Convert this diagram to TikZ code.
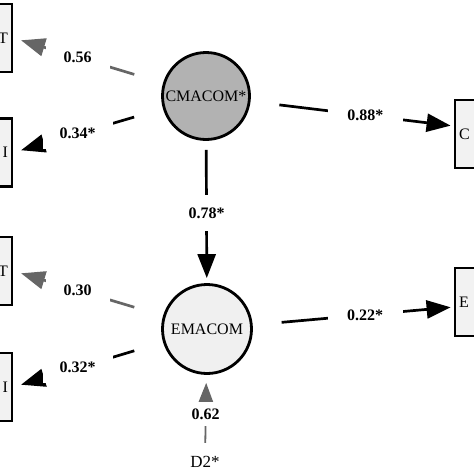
\documentclass[tikz,border=0pt]{standalone}
\usepackage{fontspec}
\setmainfont{Liberation Serif}
\usetikzlibrary{arrows.meta}

\begin{document}
\begin{tikzpicture}[
    x=1pt, y=-1pt,
    every node/.style={font=\fontsize{16}{19}\selectfont},
    obs/.style={draw, line width=2.8pt, fill=gray!10, minimum width=60pt, minimum height=68pt, inner sep=4pt, text width=52pt},
    obsL/.style={obs, align=right},
    obsR/.style={obs, align=left},
    latent/.style={circle, draw, line width=2.8pt, minimum size=87pt, inner sep=0pt},
    coef/.style={fill=white, inner sep=0pt, font=\fontsize{16}{19}\selectfont\bfseries},
    link/.style={-{Triangle[length=24pt,width=18pt]}, line width=2.7pt},
    nslink/.style={link, draw=black!60}
]
\useasboundingbox (0,0) rectangle (474,474);
\clip (0,0) rectangle (474,474);

% indicators
\node[obsL] (b1) at (-18,38) {T};
\node[obsL] (b2) at (-18,152.5) {I};
\node[obsL] (b3) at (-18,271) {T};
\node[obsL] (b4) at (-18,387) {I};
\node[obsR] (bc) at (485,134) {C};
\node[obsR] (be) at (485,302) {E};

% factors
\node[latent, fill=gray!60] (cm) at (206,96) {CMACOM*};
\node[latent, fill=gray!12, minimum size=89pt] (em) at (207,329) {EMACOM};
\node[font=\fontsize{17}{20}\selectfont] (d2) at (205,462) {D2*};

\draw[nslink, shorten <=30pt, shorten >=8pt] (cm) -- node[coef, pos=0.57, minimum width=64pt, minimum height=30pt] {0.56} (b1.east);
\draw[link, shorten <=30pt, shorten >=8pt] (cm) -- node[coef, pos=0.57, minimum width=70pt, minimum height=30pt] {0.34*} (b2.east);
\draw[link, shorten <=29pt, shorten >=3pt] (cm) -- node[coef, pos=0.565, minimum width=75pt, minimum height=30pt] {0.88*} ([yshift=8pt]bc.west);
\draw[link, shorten <=9pt, shorten >=5pt] (cm) -- node[coef, pos=0.51, minimum width=40pt, minimum height=36pt] {0.78*} (em);

\draw[nslink, shorten <=30pt, shorten >=8pt] (em) -- node[coef, pos=0.57, minimum width=64pt, minimum height=30pt] {0.30} (b3.east);
\draw[link, shorten <=30pt, shorten >=8pt] (em) -- node[coef, pos=0.57, minimum width=70pt, minimum height=30pt] {0.32*} (b4.east);
\draw[link, shorten <=29pt, shorten >=3pt] (em) -- node[coef, pos=0.56, minimum width=75pt, minimum height=30pt] {0.22*} ([yshift=-5pt]be.west);

\draw[nslink, line width=1.8pt, shorten <=10pt, shorten >=8pt] (d2) -- node[coef, minimum width=40pt, minimum height=24pt] {0.62} (em);
\end{tikzpicture}
\end{document}
